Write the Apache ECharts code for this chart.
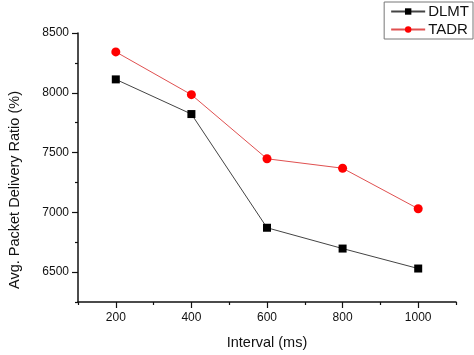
<!DOCTYPE html>
<html>
<head>
<meta charset="utf-8">
<script src="https://cdn.jsdelivr.net/npm/echarts@6/dist/echarts.min.js"></script>
<style>html,body{margin:0;padding:0;background:#fff}#c{width:474px;height:355px}</style>
</head>
<body>
<div id="c"></div>
<script>
const intervals = [200, 400, 600, 800, 1000];
const dlmt = [8112, 7822, 6871, 6697, 6530];
const tadr = [8342, 7984, 7448, 7369, 7030];
const xMajor = [200, 400, 600, 800, 1000];
const xMinor = [100, 300, 500, 700, 900, 1100];
const yMajor = [6500, 7000, 7500, 8000, 8500];
const yMinor = [6250, 6750, 7250, 7750, 8250];

const FONT = '"Liberation Sans", Arial, sans-serif';
const chart = echarts.init(document.getElementById('c'), null, {renderer: 'canvas'});
const axisLine = {show: true, lineStyle: {color: '#111', width: 1.5}};
const plain = v => String(v);
chart.setOption({
  animation: false,
  backgroundColor: '#fff',
  grid: {left: 78, right: 18, top: 33, bottom: 47},
  legend: {
    orient: 'vertical', right: 1, top: 2,
    borderColor: '#777', borderWidth: 1, borderRadius: 0,
    padding: [2, 4, 2, 6], itemGap: 3, itemWidth: 34, itemHeight: 8,
    textStyle: {fontFamily: FONT, fontSize: 15, color: '#111', padding: [0, 0, 0, -2]},
    data: ['DLMT', 'TADR']
  },
  graphic: [{
    type: 'text', x: 15, y: 190, rotation: Math.PI / 2,
    style: {text: 'Avg. Packet Delivery Ratio (%)', font: '14.5px ' + FONT, fill: '#111', align: 'center', verticalAlign: 'middle'}
  }],
  xAxis: [{
    type: 'value', min: 100, max: 1100,
    name: 'Interval (ms)', nameLocation: 'middle', nameGap: 33,
    nameTextStyle: {fontFamily: FONT, fontSize: 14.5, color: '#111'},
    axisLine: axisLine,
    axisTick: {show: true, customValues: xMajor, length: 6, lineStyle: {color: '#111', width: 1.2}},
    axisLabel: {customValues: xMajor, formatter: plain, fontFamily: FONT, fontSize: 12, color: '#111', margin: 10},
    splitLine: {show: false}
  }, {
    type: 'value', min: 100, max: 1100, position: 'bottom',
    axisLine: {show: false},
    axisTick: {show: true, customValues: xMinor, length: 3, lineStyle: {color: '#111', width: 1.2}},
    axisLabel: {show: false},
    splitLine: {show: false}
  }],
  yAxis: [{
    type: 'value', min: 6250, max: 8500,
    axisLine: axisLine,
    axisTick: {show: true, customValues: yMajor, length: 6, lineStyle: {color: '#111', width: 1.2}},
    axisLabel: {customValues: yMajor, formatter: plain, fontFamily: FONT, fontSize: 12, color: '#111', margin: 9},
    splitLine: {show: false}
  }, {
    type: 'value', min: 6250, max: 8500, position: 'left',
    axisLine: {show: false},
    axisTick: {show: true, customValues: yMinor, length: 3, lineStyle: {color: '#111', width: 1.2}},
    axisLabel: {show: false},
    splitLine: {show: false}
  }],
  series: [{
    name: 'DLMT', type: 'line',
    data: intervals.map((x, i) => [x, dlmt[i]]),
    symbol: 'rect', symbolSize: 8,
    itemStyle: {color: '#000'},
    lineStyle: {color: '#444', width: 1}
  }, {
    name: 'TADR', type: 'line',
    data: intervals.map((x, i) => [x, tadr[i]]),
    symbol: 'circle', symbolSize: 9,
    itemStyle: {color: '#f00'},
    lineStyle: {color: '#e05050', width: 1}
  }]
});
</script>
</body>
</html>
